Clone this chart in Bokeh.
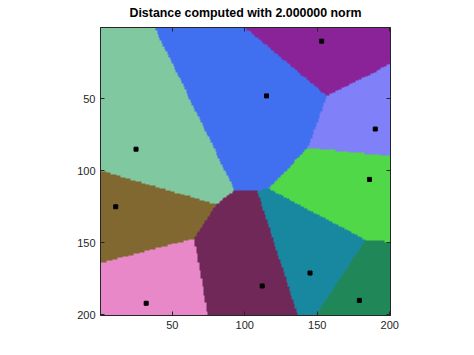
import numpy as np
from bokeh.plotting import figure
from bokeh.models import Range1d, LinearAxis, FixedTicker
from bokeh.embed import file_html
from bokeh.resources import INLINE

# Seed points (column, row) of the Voronoi cells
seed_x = [25, 115, 153, 190, 186, 145, 179, 112, 32, 11]
seed_y = [85, 48, 10, 71, 106, 171, 190, 180, 192, 125]
cell_colors = ["#80C8A0", "#4070F0", "#8A2298", "#8080F8", "#50D848",
               "#1888A0", "#208858", "#702858", "#E888C8", "#806830"]
grid_n = 200
x_weight = 0.918  # relative scale of column distances in the 2-norm
tick_values = [50, 100, 150, 200]
title_text = "Distance computed with 2.000000 norm"

# nearest-seed labels on the pixel grid (2-norm)
xs = np.arange(1, grid_n + 1)
ys = np.arange(1, grid_n + 1)
X, Y = np.meshgrid(xs, ys)
sx = np.array(seed_x, dtype=float)
sy = np.array(seed_y, dtype=float)
d = (x_weight * (X[..., None] - sx)) ** 2 + (Y[..., None] - sy) ** 2
lab = np.argmin(d, axis=2)

rgb = np.array([[int(c[1:3], 16), int(c[3:5], 16), int(c[5:7], 16)] for c in cell_colors], dtype=np.uint8)
img = np.empty((grid_n, grid_n), dtype=np.uint32)
view = img.view(dtype=np.uint8).reshape((grid_n, grid_n, 4))
view[..., 0] = rgb[lab, 0]
view[..., 1] = rgb[lab, 1]
view[..., 2] = rgb[lab, 2]
view[..., 3] = 255

p = figure(width=474, height=355, output_backend="svg", toolbar_location=None,
           x_range=Range1d(0.5, grid_n + 0.5), y_range=Range1d(grid_n + 0.5, 0.5),
           min_border_left=100, min_border_right=84, min_border_top=0, min_border_bottom=40,
           title=title_text)
p.title.align = "center"
p.title.text_font = "Liberation Sans"
p.title.text_font_size = "12.4px"
p.title.text_font_style = "bold"
p.title.text_color = "#000000"
p.title.standoff = 11
p.title.vertical_align = "top"
p.grid.visible = False
p.outline_line_color = "#262626"
p.background_fill_color = "white"
p.border_fill_color = "white"

p.image_rgba(image=[img], x=0.5, y=0.5, dw=grid_n, dh=grid_n)
p.scatter(seed_x, seed_y, marker="square", size=4, color="black")

for ax in p.xaxis + p.yaxis:
    ax.ticker = FixedTicker(ticks=tick_values)
    ax.major_tick_in = 4
    ax.major_tick_out = 0
    ax.minor_tick_line_color = None
    ax.axis_line_color = "#262626"
    ax.major_tick_line_color = "#262626"
    ax.major_label_text_font = "Liberation Sans"
    ax.major_label_text_font_size = "11px"
    ax.major_label_text_color = "#262626"

for loc in ["above", "right"]:
    ax = LinearAxis(ticker=FixedTicker(ticks=tick_values))
    ax.major_tick_in = 4
    ax.major_tick_out = 0
    ax.minor_tick_line_color = None
    ax.axis_line_color = "#262626"
    ax.major_tick_line_color = "#262626"
    ax.major_label_overrides = {t: "" for t in tick_values}
    ax.major_label_standoff = 0
    p.add_layout(ax, loc)

open("out.html", "w").write(file_html(p, INLINE))
